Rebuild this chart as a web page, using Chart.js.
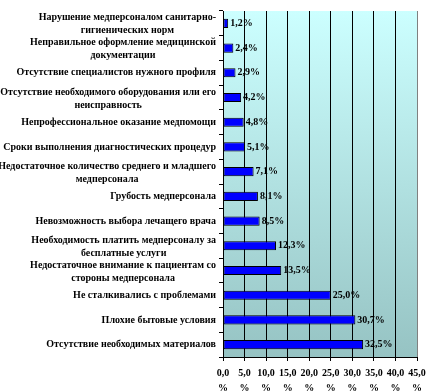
<!DOCTYPE html>
<html>
<head>
<meta charset="utf-8">
<script src="https://cdn.jsdelivr.net/npm/chart.js@4/dist/chart.umd.min.js"></script>
<style>
html,body{margin:0;padding:0;background:#fff;}
#wrap{width:441px;height:391px;position:relative;}
</style>
</head>
<body>
<div id="wrap"><canvas id="c" width="441" height="391"></canvas></div>
<script>
const categories = [
  ["Нарушение медперсоналом санитарно-", "гигиенических норм"],
  ["Неправильное оформление медицинской", "документации"],
  ["Отсутствие специалистов нужного профиля"],
  ["Отсутствие необходимого оборудования или его", "неисправность"],
  ["Непрофессиональное оказание медпомощи"],
  ["Сроки выполнения диагностических процедур"],
  ["Недостаточное количество среднего и младшего", "медперсонала"],
  ["Грубость медперсонала"],
  ["Невозможность выбора лечащего врача"],
  ["Необходимость платить медперсоналу за", "бесплатные услуги"],
  ["Недостаточное внимание к пациентам со", "стороны медперсонала"],
  ["Не сталкивались с проблемами"],
  ["Плохие бытовые условия"],
  ["Отсутствие необходимых материалов"]
];
const values = [1.2, 2.4, 2.9, 4.2, 4.8, 5.1, 7.1, 8.1, 8.5, 12.3, 13.5, 25.0, 30.7, 32.5];
const xTicks = [0, 5, 10, 15, 20, 25, 30, 35, 40, 45];

const FONT = '"Liberation Serif", "Times New Roman", serif';
const fmt = v => v.toFixed(1).replace('.', ',');

const bgPlugin = {
  id: 'bg',
  beforeDraw(chart) {
    const {ctx, chartArea: a} = chart;
    const g = ctx.createLinearGradient(0, a.top, 0, a.bottom);
    g.addColorStop(0, '#CCFFFF');
    g.addColorStop(1, '#96C3C3');
    ctx.save();
    ctx.fillStyle = g;
    ctx.fillRect(a.left, a.top, a.right - a.left, a.bottom - a.top);
    ctx.restore();
  }
};

const labelPlugin = {
  id: 'labels',
  afterDraw(chart) {
    const {ctx} = chart;
    const ys = chart.scales.y;
    ctx.save();
    ctx.fillStyle = '#000';
    ctx.font = 'bold 10px ' + FONT;
    ctx.textBaseline = 'middle';
    const lh = 13;
    const rightEdge = ys.right - 7;
    categories.forEach((lines, i) => {
      const cy = ys.getPixelForTick(i) + (lines.length > 1 ? 1 : 0);
      const w = Math.max(...lines.map(l => ctx.measureText(l).width));
      const cx = rightEdge - w / 2;
      ctx.textAlign = 'center';
      lines.forEach((l, k) => {
        ctx.fillText(l, cx, cy - (lines.length - 1) * lh / 2 + k * lh);
      });
    });
    const meta = chart.getDatasetMeta(0);
    ctx.textAlign = 'left';
    meta.data.forEach((bar, i) => {
      ctx.fillText(fmt(values[i]) + '%', bar.x + 2, bar.y);
    });
    ctx.restore();
  }
};

new Chart(document.getElementById('c'), {
  type: 'bar',
  data: {
    labels: categories.map(c => c.join(' ')),
    datasets: [{
      data: values,
      backgroundColor: '#0000FF',
      borderColor: '#000000',
      borderWidth: 1,
      borderSkipped: false,
      categoryPercentage: 1,
      barPercentage: 0.37
    }]
  },
  options: {
    indexAxis: 'y',
    responsive: false,
    animation: false,
    layout: {padding: {left: 0, right: 24, top: 11, bottom: 0}},
    plugins: {legend: {display: false}, tooltip: {enabled: false}},
    scales: {
      x: {
        min: 0, max: 45,
        afterFit(s) { s.height = 34; },
        afterBuildTicks(s) { s.ticks = xTicks.map(v => ({value: v})); },
        grid: {
          color: ctx => (ctx.tick && ctx.tick.value === 45) ? '#808080' : '#000000',
          tickColor: '#000000',
          lineWidth: 1,
          tickLength: 4
        },
        border: {color: '#000000', width: 1},
        ticks: {
          color: '#000',
          padding: 5,
          maxRotation: 0,
          autoSkip: false,
          font: {family: FONT, size: 10, weight: 'bold', lineHeight: 1.5},
          callback: v => [fmt(v), '%']
        }
      },
      y: {
        afterFit(s) { s.width = 223; },
        grid: {
          drawOnChartArea: false,
          drawTicks: true,
          tickLength: 4,
          color: '#000000',
          offset: true
        },
        border: {color: '#000000', width: 1},
        ticks: {display: false}
      }
    }
  },
  plugins: [bgPlugin, labelPlugin]
});
</script>
</body>
</html>
